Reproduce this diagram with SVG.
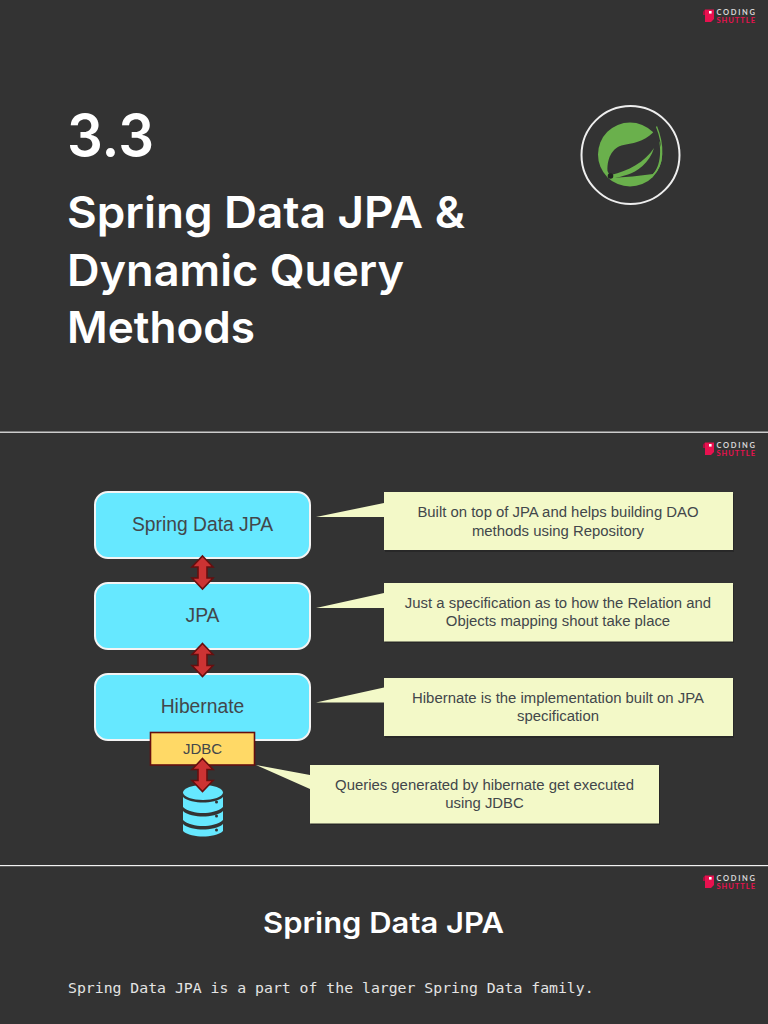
<svg xmlns="http://www.w3.org/2000/svg" width="768" height="1024" viewBox="0 0 768 1024">
<defs>
<style>
.title{font-family:"Inter","Liberation Sans",sans-serif;font-weight:600;fill:#fff}
.node{fill:#66e8ff;stroke:#f4f4f4;stroke-width:2}
.lab{font-family:"Liberation Sans",Arial,sans-serif;fill:#42474b;text-anchor:middle}
.nl{font-size:19.3px}
.cl{font-size:14.9px}
.note{fill:#f3f9c8}
.sh{fill:#282828}
.arrow{fill:#cc3333;stroke:#660f0f;stroke-width:1.6;stroke-linejoin:miter}
.c{font-family:"Lato","Liberation Sans",sans-serif;font-weight:700;font-size:7.5px}
</style>
<g id="logo">
<path d="M705 9.5H714V19L711 22H705Z" fill="#e8114f"/>
<path d="M703 11.5L705 9.500V15H703Z" fill="#a80f3e"/>
<rect x="709" y="11" width="2.600" height="2.600" fill="#fff"/>
<text x="716.500" y="15.200" class="c" fill="#d8d8d8" textLength="38.500">CODING</text>
<text x="716.500" y="23" class="c" fill="#e8114f" textLength="38.500">SHUTTLE</text>
</g>
<path id="dbl" class="arrow" d="M0 -16.500L10.500 -5.500H4.500V5.500H10.500L0 16.500L-10.500 5.500H-4.500V-5.500H-10.500Z"/>
</defs>
<rect width="768" height="1024" fill="#333333"/>
<rect x="0" y="431.600" width="768" height="1.200" fill="#f2f2f2"/>
<rect x="0" y="865" width="768" height="1.200" fill="#f2f2f2"/>
<use href="#logo"/>
<use href="#logo" y="433"/>
<use href="#logo" y="866"/>
<text class="title" x="67" y="156" font-size="58" textLength="87" lengthAdjust="spacingAndGlyphs">3.3</text>
<text class="title" x="67" y="228" font-size="44" textLength="398" lengthAdjust="spacingAndGlyphs">Spring Data JPA &amp;</text>
<text class="title" x="67" y="286" font-size="44" textLength="337" lengthAdjust="spacingAndGlyphs">Dynamic Query</text>
<text class="title" x="67" y="343" font-size="44" textLength="188" lengthAdjust="spacingAndGlyphs">Methods</text>
<g id="spring-logo">
<circle cx="630.500" cy="155" r="49" fill="none" stroke="#eeeeee" stroke-width="2"/>
<circle cx="630" cy="154.500" r="32" fill="#6ab04c"/>
<path d="M656 129C648 140 636 143 626 144.500C613 146 607 157 607.500 171L611 178C625 177 640 176 653 174C663 163 661 142 656 129Z" fill="#333333"/>
<path d="M611 175C628 171 645 162 654 148C650 163 636 172 628 174.500C622 176.500 617 177.500 613 178.500Z" fill="#6ab04c"/>
<path d="M656.500 126.500C664 145 664 165 653 175" fill="none" stroke="#6ab04c" stroke-width="1.300"/>
<circle cx="610.500" cy="176" r="2.800" fill="#222222"/>
</g>
<g id="node-spring-data-jpa">
<rect class="node" x="95" y="492" width="215" height="66" rx="13"/>
<text class="lab nl" x="202.500" y="531">Spring Data JPA</text>
</g>
<g id="node-jpa">
<rect class="node" x="95" y="583" width="215" height="66" rx="13"/>
<text class="lab nl" x="202.500" y="622">JPA</text>
</g>
<g id="node-hibernate">
<rect class="node" x="95" y="674" width="215" height="66" rx="13"/>
<text class="lab nl" x="202.500" y="713">Hibernate</text>
</g>
<g id="note-1">
<rect class="sh" x="385" y="494" width="349" height="58"/>
<path class="note" d="M384 492H733V550H384V517H316L384 503Z"/>
<text class="lab cl" x="558" y="517">Built on top of JPA and helps building DAO</text>
<text class="lab cl" x="558" y="536">methods using Repository</text>
</g>
<g id="note-2">
<rect class="sh" x="385" y="585" width="349" height="58"/>
<path class="note" d="M384 583H733V641.500H384V608H316L384 593Z"/>
<text class="lab cl" x="558" y="608">Just a specification as to how the Relation and</text>
<text class="lab cl" x="558" y="626">Objects mapping shout take place</text>
</g>
<g id="note-3">
<rect class="sh" x="385" y="680" width="349" height="58"/>
<path class="note" d="M384 678H733V736H384V702.500H316L384 687.500Z"/>
<text class="lab cl" x="558" y="703">Hibernate is the implementation built on JPA</text>
<text class="lab cl" x="558" y="721">specification</text>
</g>
<g id="note-4">
<rect class="sh" x="311" y="767" width="349" height="58"/>
<path class="note" d="M310 765H659V823.500H310V789L256 765L310 775Z"/>
<text class="lab cl" x="484.500" y="790">Queries generated by hibernate get executed</text>
<text class="lab cl" x="484.500" y="808">using JDBC</text>
</g>
<g id="node-jdbc">
<rect x="150.500" y="732.500" width="104" height="32.500" fill="#ffd966" stroke="#660f0f" stroke-width="1.600"/>
<text class="lab" x="202.500" y="754" font-size="15">JDBC</text>
</g>
<g id="node-database">
<path d="M183 792.500C183 788 193 785 203 785C213 785 223 788 223 792.500C223 797 213 800 203 800C193 800 183 797 183 792.500Z" fill="#66e8ff"/>
<path d="M183 797C187 801 196 802.500 203 802.500C210 802.500 219 801 223 797V807C219 811 210 813 203 813C196 813 187 811 183 807Z" fill="#66e8ff"/>
<path d="M183 811C187 815 196 816.500 203 816.500C210 816.500 219 815 223 811V820C219 824 210 826 203 826C196 826 187 824 183 820Z" fill="#66e8ff"/>
<path d="M183 824C187 828 196 829.500 203 829.500C210 829.500 219 828 223 824V831C219 835 210 836.500 203 836.500C196 836.500 187 835 183 831Z" fill="#66e8ff"/>
<circle cx="216.500" cy="802" r="1.500" fill="#333333"/>
<circle cx="216.500" cy="816" r="1.500" fill="#333333"/>
<circle cx="216.500" cy="830" r="1.500" fill="#333333"/>
</g>
<g id="connectors">
<use href="#dbl" x="202.500" y="572.500"/>
<use href="#dbl" x="202.500" y="660"/>
<use href="#dbl" x="202.500" y="775"/>
</g>
<text class="title" x="383.500" y="933" font-size="29" text-anchor="middle" textLength="241" lengthAdjust="spacingAndGlyphs">Spring Data JPA</text>
<text x="68" y="993" font-family="DejaVu Sans Mono,monospace" font-size="14.800" fill="#e4e4e4">Spring Data JPA is a part of the larger Spring Data family.</text>
</svg>
